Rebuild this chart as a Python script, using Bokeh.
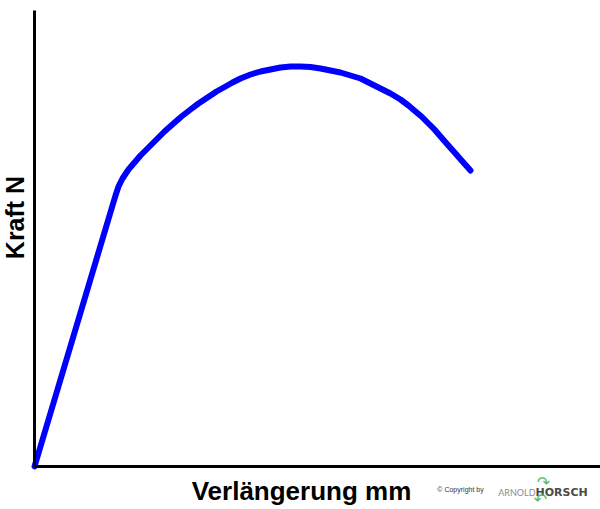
from bokeh.plotting import figure
from bokeh.models import Range1d, Label, ColumnDataSource, LinearAxis, FixedTicker
from bokeh.embed import file_html
from bokeh.resources import INLINE
import math

# Force/extension curve (arbitrary units)
verlaengerung = [0, 81, 84, 88, 94, 100, 106, 114, 121, 130, 139, 147, 156, 164, 173,
                 182, 191, 198, 206, 216, 226, 236, 246, 256, 266, 276, 286, 296, 306,
                 316, 326, 336, 346, 356, 366, 374, 381, 387, 393, 400, 406, 413, 421,
                 428, 436]
kraft = [0, 271, 280, 288, 297, 304, 311, 319, 326, 335, 343, 350, 357, 363, 369,
         375, 380, 384, 388, 392, 395, 397, 399, 400, 400, 399.5, 398, 396, 394,
         391, 388, 383, 378, 373, 367, 361, 355, 350, 344, 337, 330, 322, 313,
         305, 296]

x_label = "Verlängerung mm"
y_label = "Kraft N"
copyright_text = "© Copyright by"
logo_left = "ARNOLD"
logo_right = "HORSCH"

p = figure(width=600, height=509, output_backend="svg", toolbar_location=None,
           x_range=Range1d(-34, 566), y_range=Range1d(-43, 466),
           x_axis_location=None, y_axis_location=None, min_border=0)
p.outline_line_color = None
p.grid.visible = False
p.background_fill_color = "white"
p.border_fill_color = "white"


def bare_axis(bounds):
    ax = LinearAxis(fixed_location=0, bounds=bounds, ticker=FixedTicker(ticks=[]))
    ax.major_tick_out = 0
    ax.major_tick_in = 0
    ax.minor_tick_out = 0
    ax.minor_tick_in = 0
    ax.major_label_standoff = 0
    ax.major_label_text_font_size = "0px"
    ax.axis_line_color = "black"
    ax.axis_line_width = 3
    return ax


p.add_layout(bare_axis((0, 456)), "left")
p.add_layout(bare_axis((0, 566)), "below")

src = ColumnDataSource(dict(x=verlaengerung, y=kraft))
p.line("x", "y", source=src, line_color="#0000ff", line_width=6,
       line_join="round", line_cap="round")

font = "Liberation Sans"
p.add_layout(Label(x=267, y=-24, text=x_label, text_font=font, text_font_style="bold",
                   text_font_size="26px", text_align="center", text_baseline="alphabetic",
                   text_color="black"))
p.add_layout(Label(x=-20, y=249, text=y_label, text_font=font, text_font_style="bold",
                   text_font_size="25px", text_align="center", text_baseline="alphabetic",
                   angle=math.pi / 2, text_color="black"))
p.add_layout(Label(x=426, y=-23, text=copyright_text, text_font=font,
                   text_font_size="7px", text_align="center", text_baseline="middle",
                   text_color="#333333"))
p.add_layout(Label(x=501, y=-26, text=logo_left, text_font="Lato",
                   text_font_size="9px", text_align="right", text_baseline="middle",
                   text_color="#8c8c8c"))
p.add_layout(Label(x=501, y=-26, text=logo_right, text_font="DejaVu Sans",
                   text_font_style="bold", text_font_size="11px", text_align="left",
                   text_baseline="middle", text_color="#4a4a4a"))
p.add_layout(Label(x=509, y=-16, text="↷", text_font="DejaVu Sans",
                   text_font_size="16px", text_align="center", text_baseline="middle",
                   text_color="#5cb85c"))
p.add_layout(Label(x=506, y=-33, text="↶", text_font="DejaVu Sans",
                   text_font_size="16px", text_align="center", text_baseline="middle",
                   text_color="#5cb85c"))

open("out.html", "w").write(file_html(p, INLINE))
